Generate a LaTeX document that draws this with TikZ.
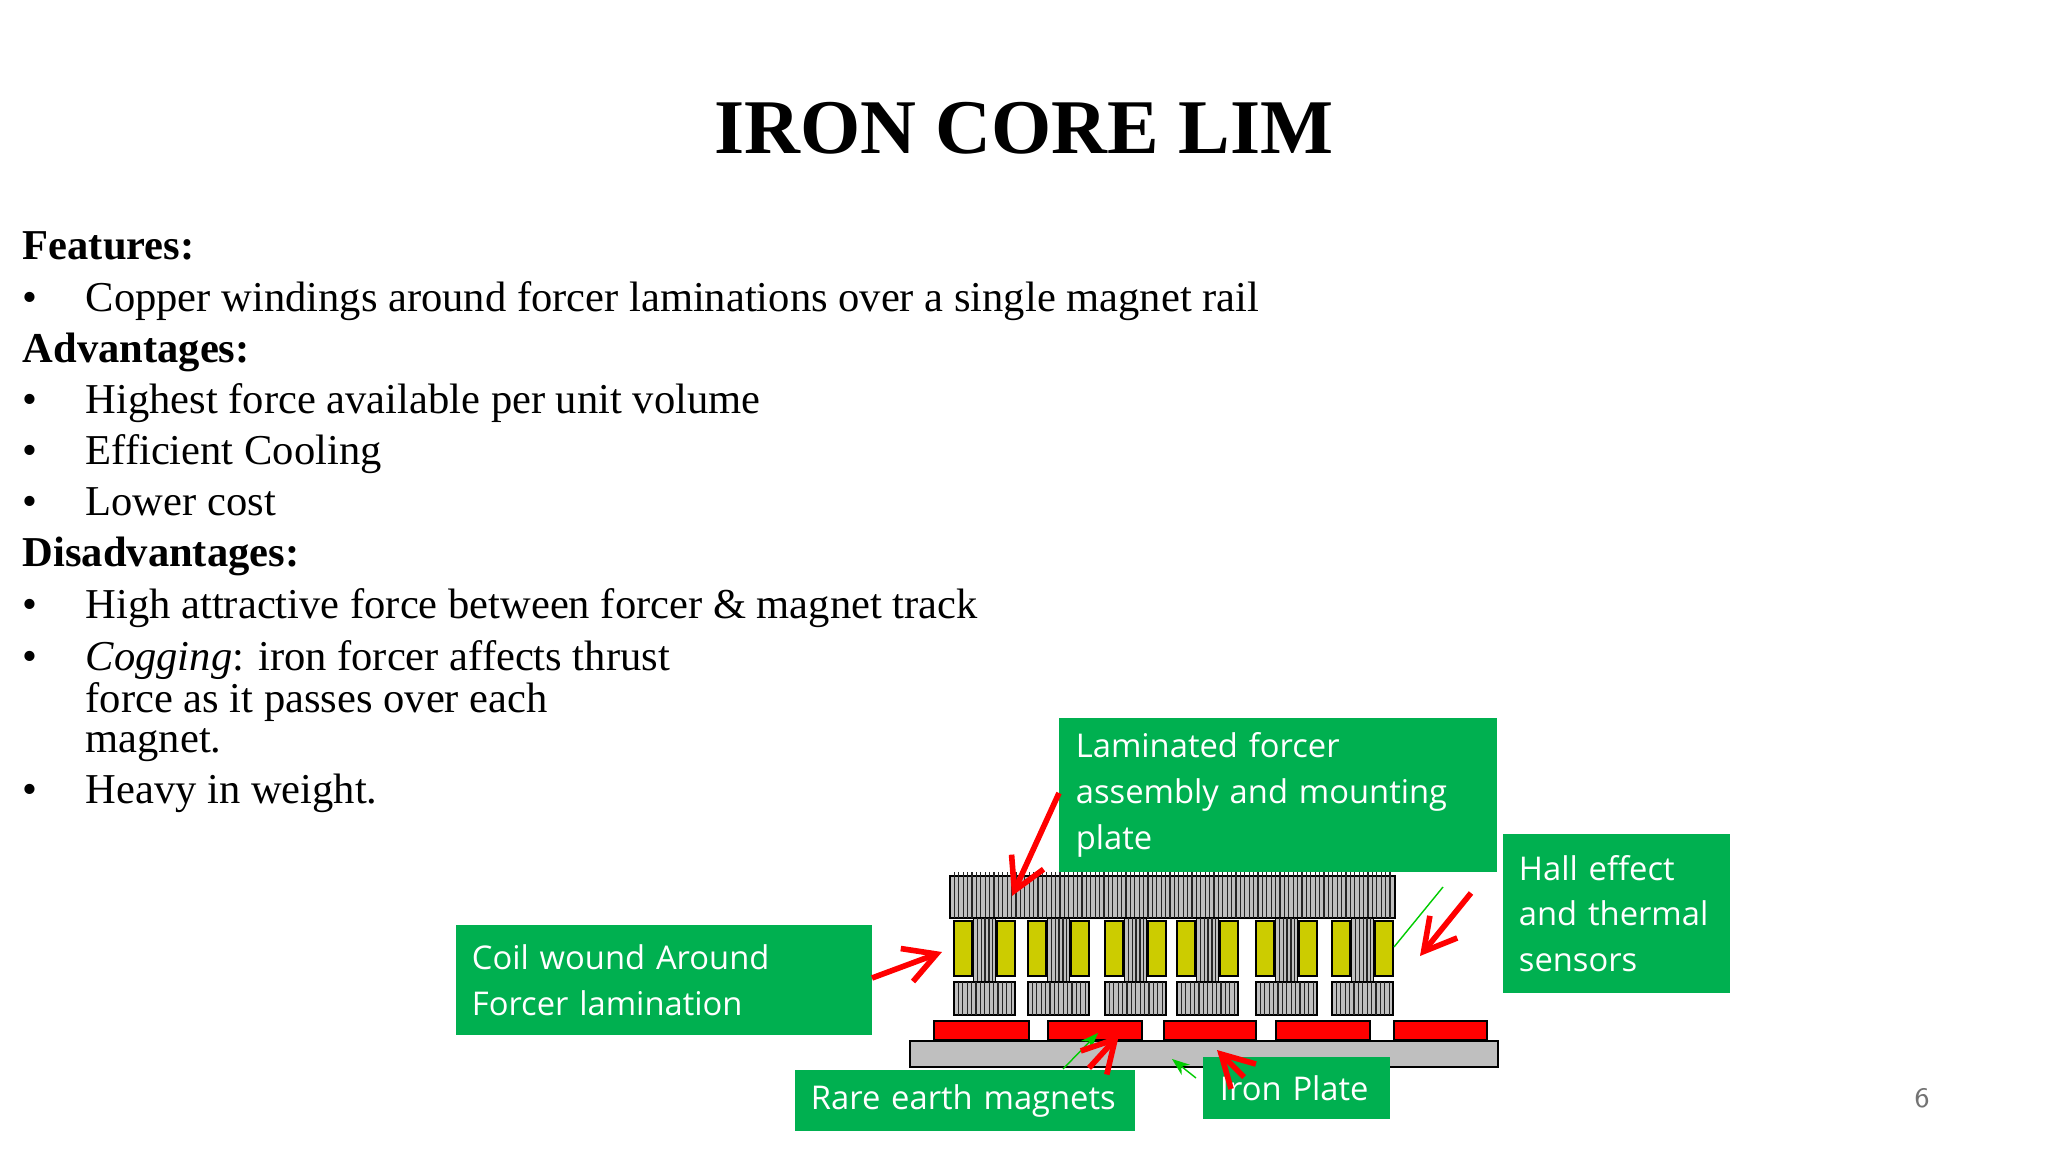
\documentclass[tikz,border=0pt]{standalone}
\usepackage{fontspec}
\setmainfont{Liberation Serif}
\newfontfamily\boxfont{Open Sans}
\usetikzlibrary{arrows.meta}
\definecolor{gbox}{HTML}{00B050}
\definecolor{coil}{HTML}{CCCC00}
\definecolor{steel}{HTML}{BFBFBF}
\begin{document}
\begin{tikzpicture}[x=0.01cm,y=-0.01cm,
  body/.style={anchor=base west,inner sep=0,font=\fontsize{12.1}{14}\selectfont},
  hd/.style={body,font=\fontsize{12.1}{14}\selectfont\bfseries},
  bul/.style={anchor=base west,inner sep=0,font=\fontsize{12.1}{14}\selectfont},
  gb/.style={fill=gbox,text=white,inner sep=0,align=left,font=\boxfont\fontsize{9.3}{13}\selectfont},
  lam/.style={fill=steel,draw=black,line width=0.5pt},
  hl/.style={line width=0.35pt,black!85},
  ra/.style={red,line width=1.6pt,-{Straight Barb[length=9pt,width=10pt,line width=1.6pt]}},
  ga/.style={green!80!black,line width=0.4pt,-{Stealth[length=5pt]}},
  gl/.style={green!80!black,line width=0.4pt}]
\useasboundingbox (0,0) rectangle (2048,1152);
\fill[white] (0,0) rectangle (2048,1152);
% title
\node[font=\fontsize{22}{26}\selectfont\bfseries] (title) at (1024,128) {IRON CORE LIM};
% body
\node[hd] (f) at (22,260) {Features:};
\node[bul] (b1) at (22,312) {•}; \node[body] (t1) at (85,312) {Copper windings around forcer laminations over a single magnet rail};
\node[hd] (a) at (22,363) {Advantages:};
\node[bul] (b2) at (22,414) {•}; \node[body] (t2) at (85,414) {Highest force available per unit volume};
\node[bul] (b3) at (22,465) {•}; \node[body] (t3) at (85,465) {Efficient Cooling};
\node[bul] (b4) at (22,516) {•}; \node[body] (t4) at (85,516) {Lower cost};
\node[hd] (d) at (22,567) {Disadvantages:};
\node[bul] (b5) at (22,618) {•}; \node[body] (t5) at (85,618) {High attractive force between forcer \& magnet track};
\node[bul] (b6) at (22,670) {•}; \node[body] (t6) at (85,670) {\textit{Cogging}: iron forcer affects thrust};
\node[body] (t6b) at (85,712) {force as it passes over each};
\node[body] (t6c) at (85,752) {magnet.};
\node[bul] (b7) at (22,803) {•}; \node[body] (t7) at (85,803) {Heavy in weight.};
% iron plate and magnets
\draw[fill=steel,draw=black,line width=0.6pt] (910,1041) rectangle (1498,1067);
\foreach \a/\b in {934/1029,1048/1142,1164/1256,1276/1370,1394/1487}
  \draw[fill=red,draw=black,line width=0.5pt] (\a,1021) rectangle (\b,1040);
% yoke
\draw[lam] (950,876) rectangle (1395,918);
\foreach \x in {954.4,958.8,...,1392} \draw[hl] (\x,872) -- (\x,918);
% teeth units
\foreach \u in {954,1028,1105,1177,1256,1332}{
  \draw[lam] (\u+19.5,918) rectangle (\u+41.5,982);
  \foreach \k in {0,1,2,3,4} \draw[hl] (\u+23.5+\k*3.8,918) -- (\u+23.5+\k*3.8,982);
  \draw[fill=coil,draw=black,line width=0.6pt] (\u,921) rectangle (\u+18,976);
  \draw[fill=coil,draw=black,line width=0.6pt] (\u+43,921) rectangle (\u+61,976);
  \draw[lam] (\u,982) rectangle (\u+61,1015);
  \foreach \k in {1,...,13} \draw[hl] (\u+\k*4.4,982) -- (\u+\k*4.4,1015);
}
% green boxes
\node[gb,minimum width=4.38cm,minimum height=1.54cm,text width=4.04cm] (lf) at (1278,795) {\mbox{Laminated forcer}\\\mbox{assembly and mounting}\\\mbox{plate}};
\node[gb,minimum width=2.27cm,minimum height=1.59cm,text width=1.95cm] (hs) at (1616.5,913.5) {\mbox{Hall effect}\\\mbox{and thermal}\\\mbox{sensors}};
\node[gb,minimum width=4.16cm,minimum height=1.09cm,text width=3.84cm] (cw) at (664,980) {\mbox{Coil wound Around}\\\mbox{Forcer lamination}};
\node[gb,minimum width=3.40cm,minimum height=0.61cm,text width=3.08cm] (rm) at (965,1100.5) {\mbox{Rare earth magnets}};
\node[gb,minimum width=1.87cm,minimum height=0.62cm,text width=1.53cm] (ip) at (1296.5,1088) {\mbox{Iron Plate}};
\node[text=black!55,font=\fontsize{8}{10}\selectfont\sffamily] (pg) at (1922,1098) {6};
% arrow coordinates
\coordinate (a1s) at (1059,793); \coordinate (a1e) at (1012,896);
\coordinate (a2s) at (872,978); \coordinate (a2e) at (942,952);
\coordinate (a3s) at (1471,893); \coordinate (a3e) at (1420,956);
\coordinate (a4s) at (1089,1068); \coordinate (a4e) at (1119,1035);
\coordinate (a5s) at (1244,1077); \coordinate (a5e) at (1217,1050);
\coordinate (g1s) at (1443,887); \coordinate (g1e) at (1394,947);
\coordinate (g2s) at (1063,1069); \coordinate (g2e) at (1098,1033);
\coordinate (g3s) at (1196,1078); \coordinate (g3e) at (1172,1059);
\draw[gl] (g1s) -- (g1e);
\draw[ga] (g2s) -- (g2e);
\draw[ga] (g3s) -- (g3e);
\draw[ra] (a1s) -- (a1e);
\draw[ra] (a2s) -- (a2e);
\draw[ra] (a3s) -- (a3e);
\draw[ra] (a4s) -- (a4e);
\draw[ra] (a5s) -- (a5e);
\end{tikzpicture}
\end{document}
